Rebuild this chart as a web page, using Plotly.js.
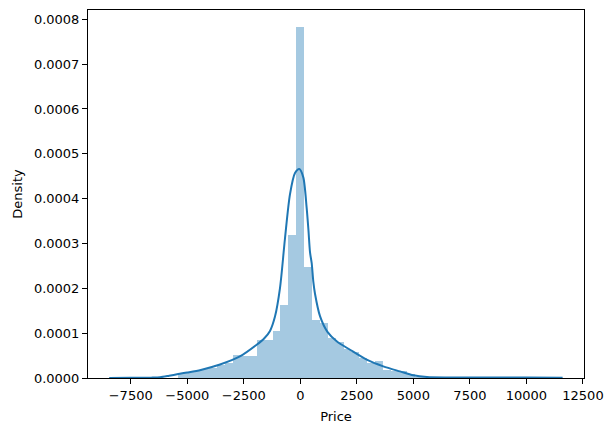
<!DOCTYPE html>
<html>
<head>
<meta charset="utf-8">
<script src="https://cdn.plot.ly/plotly-3.0.1.min.js"></script>
<style>html,body{margin:0;padding:0;background:#fff;}#chart{width:615px;height:432px;}</style>
</head>
<body>
<div id="chart"></div>
<script>
// Histogram bins (centers, Price) and density heights
var binCenters = [-5242.5, -4893.5, -4544.5, -4195.5, -3846.5, -3497.5, -3148.5, -2799.5, -2450.5, -2101.5,
  -1752.5, -1403.5, -1054.5, -705.5, -356.5, -7.5, 341.5, 690.5, 1039.5, 1388.5,
  1737.5, 2086.5, 2435.5, 2784.5, 3133.5, 3482.5, 3831.5, 4180.5, 4529.5, 4878.5,
  5227.5, 5576.5, 5925.5, 6274.5];
var binDensity = [0.000011, 0.000013, 0.000016, 0.000019, 0.000023, 0.000028, 0.000034, 0.000051, 0.000050, 0.000050,
  0.000085, 0.000084, 0.000104, 0.000163, 0.000319, 0.000783, 0.000247, 0.000130, 0.000123, 0.000089,
  0.000081, 0.000065, 0.000058, 0.000044, 0.000033, 0.000039, 0.0000185, 0.000015, 0.000015, 0.000009,
  0.000003, 0.000002, 0.000002, 0.000001];
var binWidth = 349;

// KDE curve
var kdeX = [-8450, -7500, -6600, -6200, -5800, -5400, -5000, -4400, -3550, -2670, -1930, -1600, -1340, -1120, -900, -680, -455, -234, -44,
  130, 280, 360, 430, 504, 575, 650, 871, 1200, 1609, 2198, 2936, 3670, 4409, 5000, 5600, 6600, 8000, 10000, 11600];
var kdeY = [0.0000002, 0.0000004, 0.0000008, 0.0000016, 0.000005, 0.0000088, 0.0000122, 0.000018, 0.00003, 0.000048, 0.000074, 0.000088, 0.000105, 0.000137, 0.0002, 0.00031, 0.00041, 0.000457, 0.000466,
  0.000448, 0.00038, 0.00033, 0.00028, 0.000256, 0.000215, 0.000188, 0.000138, 0.000103, 0.000082, 0.000063, 0.000041, 0.000026, 0.0000147, 0.000006, 0.0000022, 0.0000013, 0.0000012, 0.000001, 0.0000006];

var xTicks = [-7500, -5000, -2500, 0, 2500, 5000, 7500, 10000, 12500];
var yTicks = [0, 0.0001, 0.0002, 0.0003, 0.0004, 0.0005, 0.0006, 0.0007, 0.0008];

var font = {family: 'DejaVu Sans, sans-serif', size: 13, color: '#000'};

var traces = [
  {type: 'bar', x: binCenters, y: binDensity, width: binWidth,
   marker: {color: 'rgba(31,119,180,0.4)', line: {width: 0}}, hoverinfo: 'skip'},
  {type: 'scatter', mode: 'lines', x: kdeX, y: kdeY,
   line: {color: '#1f77b4', width: 2, shape: 'spline', smoothing: 0.8}}
];

var layout = {
  width: 615, height: 432,
  margin: {l: 88, r: 31, t: 10, b: 54},
  paper_bgcolor: '#fff', plot_bgcolor: '#fff',
  showlegend: false, bargap: 0,
  font: font,
  xaxis: {range: [-9388, 12545], tickvals: xTicks, tickformat: 'd', ticks: 'outside', ticklen: 5, tickcolor: '#000',
          showline: true, linecolor: '#000', linewidth: 1, mirror: true, showgrid: false, zeroline: false,
          title: {text: 'Price', font: font, standoff: 10}, tickfont: font},
  yaxis: {range: [0, 0.0008207], tickvals: yTicks, tickformat: '.4f', ticks: 'outside', ticklen: 5, tickcolor: '#000',
          showline: true, linecolor: '#000', linewidth: 1, mirror: true, showgrid: false, zeroline: false,
          title: {text: 'Density', font: font, standoff: 8}, tickfont: font}
};

Plotly.newPlot('chart', traces, layout, {displayModeBar: false, staticPlot: true});
</script>
</body>
</html>
